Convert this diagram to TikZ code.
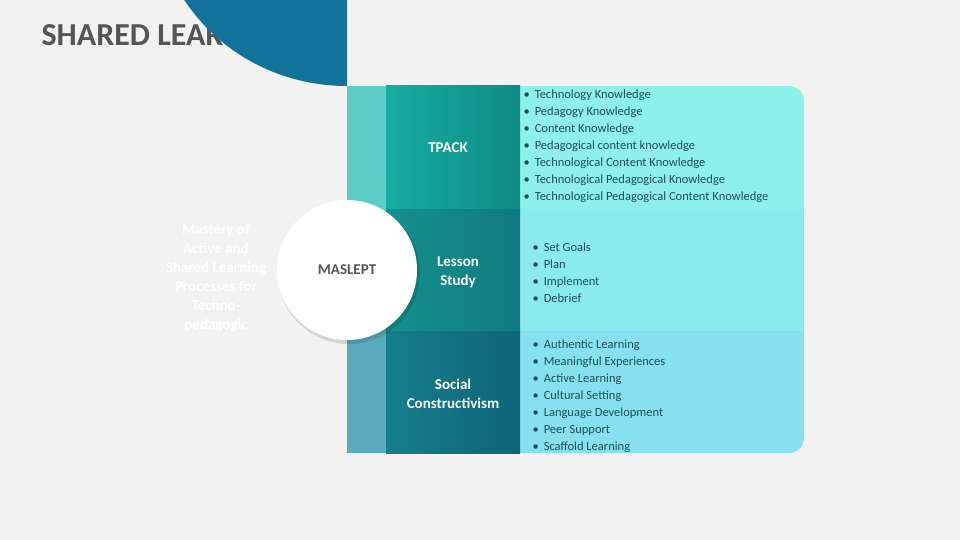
\documentclass[tikz,border=0pt]{standalone}
\usepackage{fontspec}
\setmainfont{Carlito}
\definecolor{bg}{HTML}{F2F2F2}
\definecolor{disk}{HTML}{11739A}
\definecolor{txt}{HTML}{1F4E5A}
\definecolor{ttl}{HTML}{555555}
\definecolor{p1}{RGB}{141,240,234}
\definecolor{p2}{RGB}{138,235,239}
\definecolor{p3}{RGB}{134,224,240}
\definecolor{b1l}{RGB}{22,173,160}
\definecolor{b1r}{RGB}{15,140,134}
\definecolor{b2l}{RGB}{20,144,142}
\definecolor{b2r}{RGB}{17,122,128}
\definecolor{b3l}{RGB}{20,126,140}
\definecolor{b3r}{RGB}{15,100,120}
\definecolor{s1}{RGB}{91,205,197}
\definecolor{s2}{RGB}{91,170,190}
\begin{document}
\begin{tikzpicture}[x=1pt,y=-1pt,
  lbl/.style={text=white,font=\bfseries\fontsize{15}{19}\selectfont,align=center},
  lst/.style={text=txt,font=\fontsize{12.5}{17}\selectfont,align=left,anchor=west}]
\fill[bg] (0,0) rectangle (960,540);
\useasboundingbox (0,0) rectangle (960,540);
\node[anchor=west,text=ttl,font=\bfseries\fontsize{32}{36}\selectfont] (title) at (38,35) {SHARED LEARNING};
% right panel
\begin{scope}
\clip[rounded corners=15pt] (480,86) rectangle (804,453);
\fill[p1] (520,86) rectangle (804,209);
\fill[p2] (520,209) rectangle (804,331);
\fill[p3] (520,331) rectangle (804,453);
\end{scope}
% bands
\shade[left color=b1l,right color=b1r] (386,86) rectangle (520,209);
\shade[left color=b2l,right color=b2r] (386,209) rectangle (520,331);
\shade[left color=b3l,right color=b3r] (386,331) rectangle (520,453);
% strip
\fill[s1] (347,86) rectangle (386,270);
\fill[s2] (347,270) rectangle (386,453);
% half disk
\fill[disk] (347,86) arc[start angle=90,end angle=270,x radius=192,y radius=183.5] -- cycle;
% circle
\fill[black,opacity=0.12] (349,273) circle (71);
\node[circle,fill=white,minimum size=140pt,inner sep=0pt,text=ttl,font=\bfseries\fontsize{15}{18}\selectfont] (c) at (347,270) {MASLEPT};
\node[lbl] (mastery) at (216,278) {Mastery of\\Active and\\Shared Learning\\Processes for\\Techno-\\pedagogic};
\node[lbl] (tpack) at (448,148) {TPACK};
\node[lbl] (lesson) at (458,272) {Lesson\\Study};
\node[lbl] (social) at (453,394) {Social\\Constructivism};
\node[lst] (l1) at (520,146) {\begin{tabular}{@{}l@{\hspace{5pt}}l@{}}
\textbullet & Technology Knowledge\\ \textbullet & Pedagogy Knowledge\\ \textbullet & Content Knowledge\\
\textbullet & Pedagogical content knowledge\\ \textbullet & Technological Content Knowledge\\
\textbullet & Technological Pedagogical Knowledge\\ \textbullet & Technological Pedagogical Content Knowledge\end{tabular}};
\node[lst] (l2) at (529,274) {\begin{tabular}{@{}l@{\hspace{5pt}}l@{}}
\textbullet & Set Goals\\ \textbullet & Plan\\ \textbullet & Implement\\ \textbullet & Debrief\end{tabular}};
\node[lst] (l3) at (529,396) {\begin{tabular}{@{}l@{\hspace{5pt}}l@{}}
\textbullet & Authentic Learning\\ \textbullet & Meaningful Experiences\\ \textbullet & Active Learning\\
\textbullet & Cultural Setting\\ \textbullet & Language Development\\ \textbullet & Peer Support\\ \textbullet & Scaffold Learning\end{tabular}};
\end{tikzpicture}
\end{document}
